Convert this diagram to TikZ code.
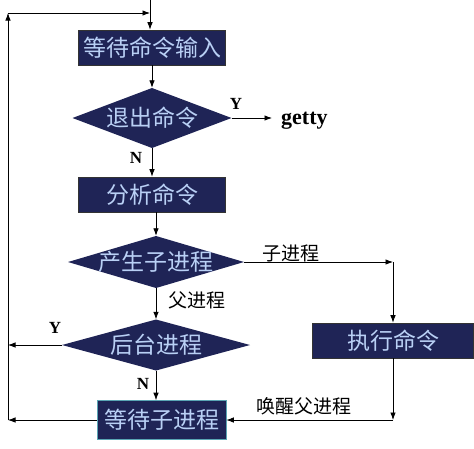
\documentclass[tikz,border=0pt]{standalone}
\usepackage{fontspec}
\setmainfont{Liberation Serif}
\newfontfamily\cjk{Noto Sans CJK SC}
\usetikzlibrary{arrows.meta}
\definecolor{navy}{RGB}{31,36,86}
\definecolor{lightb}{RGB}{185,208,245}
\definecolor{teal5}{RGB}{90,165,180}
\begin{document}
\begin{tikzpicture}[x=1pt,y=-1pt,
  box/.style={rectangle, draw=black!80, line width=0.6pt, fill=navy, text=lightb,
    font=\cjk\fontsize{23}{23}\selectfont, inner sep=0pt},
  dec/.style={rectangle, inner sep=0pt, text=lightb,
    font=\cjk\fontsize{23}{23}\selectfont,
    path picture={\fill[navy] (path picture bounding box.west) -- (path picture bounding box.north)
      -- (path picture bounding box.east) -- (path picture bounding box.south) -- cycle;}},
  arr/.style={-{Latex[length=7.5pt,width=5.5pt]}, line width=0.8pt},
  yn/.style={inner sep=0pt, font=\bfseries\fontsize{17}{17}\selectfont},
  lab/.style={inner sep=0pt, font=\cjk\fontsize{19}{19}\selectfont}]
\useasboundingbox (0,0) rectangle (474,448);
\node[box, minimum width=147, minimum height=35] (b1) at (152,47.5) {等待命令输入};
\node[dec, minimum width=159, minimum height=60] (d1) at (152,118) {退出命令};
\node[box, minimum width=147, minimum height=35] (b2) at (152,194.5) {分析命令};
\node[dec, minimum width=176, minimum height=52] (d2) at (156,262) {产生子进程};
\node[dec, minimum width=188, minimum height=51] (d3) at (156,345) {后台进程};
\node[box, draw=teal5, minimum width=129, minimum height=39] (b5) at (161.5,420) {等待子进程};
\node[box, minimum width=161, minimum height=35] (b4) at (393,340.5) {执行命令};
\node[inner sep=0pt, anchor=west, font=\bfseries\fontsize{22}{22}\selectfont] (getty) at (281,121) {getty};

\coordinate (top) at (150,0);
\coordinate (lt) at (8,13);
\coordinate (lb) at (8,420);
\coordinate (ly) at (8,345);
\coordinate (r1) at (d2.east -| b4.north);
\coordinate (r2) at (b4.south |- b5.east);

\draw[arr] (top) -- (top |- b1.north);
\draw[arr] (lb) -- (lt);
\draw[arr] (lt) -- (lt -| top);
\draw[arr] (b5.west) -- (lb);
\draw[arr] (d3.west) -- (ly);
\draw[arr] (b1.south) -- (d1.north);
\draw[arr, shorten >=9pt] (d1.east) -- (d1.east -| getty.west);
\draw[arr] (d1.south) -- (b2.north);
\draw[arr] (d2.north |- b2.south) -- (d2.north);
\draw[arr] (d2.south) -- (d3.north);
\draw[arr] (d3.south) -- (d3.south |- b5.north);
\draw[arr] (d2.east) -- (r1);
\draw[arr] (r1) -- (b4.north);
\draw[arr] (b4.south) -- (r2);
\draw[arr] (r2) -- (b5.east);

\node[yn] (y1) at (236,104) {Y};
\node[yn] (n1) at (136,158) {N};
\node[yn] (y2) at (55,328) {Y};
\node[yn] (n2) at (143,384) {N};
\node[lab] (l1) at (291,253) {子进程};
\node[lab] (l2) at (197,300) {父进程};
\node[lab] (l3) at (304,406) {唤醒父进程};
\end{tikzpicture}
\end{document}
